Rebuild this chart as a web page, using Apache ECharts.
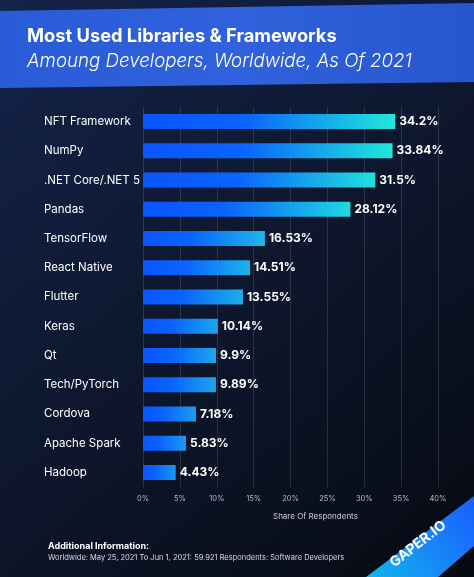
<!DOCTYPE html>
<html>
<head>
<meta charset="utf-8">
<script src="https://cdn.jsdelivr.net/npm/echarts@6/dist/echarts.min.js"></script>
<style>
  html, body { margin: 0; padding: 0; background: #0b1222; }
  #chart { width: 474px; height: 577px; }
</style>
</head>
<body>
<div id="chart"></div>
<script>
// chart data
var libraries = ['NFT Framework', 'NumPy', '.NET Core/.NET 5', 'Pandas', 'TensorFlow', 'React Native',
    'Flutter', 'Keras', 'Qt', 'Tech/PyTorch', 'Cordova', 'Apache Spark', 'Hadoop'];
var shares = [34.2, 33.84, 31.5, 28.12, 16.53, 14.51, 13.55, 10.14, 9.9, 9.89, 7.18, 5.83, 4.43];
var shareLabels = ['34.2%', '33.84%', '31.5%', '28.12%', '16.53%', '14.51%', '13.55%', '10.14%', '9.9%', '9.89%', '7.18%', '5.83%', '4.43%'];
var tickValues = [0, 5, 10, 15, 20, 25, 30, 35, 40];

var font = 'Inter, "Noto Sans", sans-serif';

// end colour of each bar goes from light blue (short) to cyan (long)
function mix(a, b, t) {
    var r = Math.round(a[0] + (b[0] - a[0]) * t);
    var g = Math.round(a[1] + (b[1] - a[1]) * t);
    var bl = Math.round(a[2] + (b[2] - a[2]) * t);
    return 'rgb(' + r + ',' + g + ',' + bl + ')';
}
var maxShare = Math.max.apply(null, shares);

var barData = shares.map(function (v, i) {
    var t = v / maxShare;
    return {
        value: v,
        label: { formatter: shareLabels[i] },
        itemStyle: {
            color: new echarts.graphic.LinearGradient(0, 0, 1, 0, [
                { offset: 0, color: '#0a55ff' },
                { offset: 0.4, color: '#0a64ff' },
                { offset: 1, color: mix([26, 140, 242], [32, 232, 218], t) }
            ])
        }
    };
});

var myChart = echarts.init(document.getElementById('chart'), null, { renderer: 'canvas' });

var option = {
    backgroundColor: new echarts.graphic.LinearGradient(0, 0, 1, 1, [
        { offset: 0, color: '#14234a' },
        { offset: 0.45, color: '#0e1830' },
        { offset: 1, color: '#070a12' }
    ]),
    graphic: [
        /* title banner */
        {
            type: 'polygon',
            z: 0,
            shape: { points: [[0, 11], [474, 3], [474, 82], [0, 88]] },
            style: {
                fill: new echarts.graphic.LinearGradient(0, 0, 1, 0, [
                    { offset: 0, color: '#2a5bd8' },
                    { offset: 0.5, color: '#2f62dc' },
                    { offset: 1, color: '#2756cf' }
                ])
            }
        },
        {
            type: 'text', left: 27, top: 28,
            style: { text: 'Most Used Libraries & Frameworks', fill: '#ffffff', font: 'bold 18.3px ' + font }
        },
        {
            type: 'text', left: 27, top: 52,
            style: { text: 'Amoung Developers, Worldwide, As Of 2021', fill: '#ffffff', font: 'italic 300 18.7px ' + font }
        },
        /* axis title */
        {
            type: 'text', left: 273, top: 513,
            style: { text: 'Share Of Respondents', fill: '#c8ccd6', font: '8px ' + font }
        },
        /* footnote */
        {
            type: 'text', left: 48, top: 542,
            style: { text: 'Additional Information:', fill: '#ffffff', font: 'bold 9px ' + font }
        },
        {
            type: 'text', left: 48, top: 554,
            style: { text: 'Worldwide: May 25, 2021 To Jun 1, 2021: 59.921 Respondents: Software Developers', fill: '#d8dbe2', font: '7.5px ' + font }
        },
        /* logo band */
        {
            type: 'polygon',
            shape: { points: [[366, 577], [474, 496], [474, 546], [438, 577]] },
            style: {
                fill: new echarts.graphic.LinearGradient(0, 1, 1, 0, [
                    { offset: 0, color: '#13b4ee' },
                    { offset: 1, color: '#1a5cff' }
                ])
            }
        },
        {
            type: 'text', x: 418, y: 544, rotation: 0.66,
            style: { text: 'GAPER.IO', fill: '#ffffff', font: 'bold 14px ' + font, align: 'center', verticalAlign: 'middle' }
        }
    ],
    grid: {
        left: 143,
        right: 36,
        top: 107,
        bottom: 90,
        containLabel: false
    },
    xAxis: {
        type: 'value',
        min: 0,
        max: 40,
        interval: 5,
        axisLine: { show: false },
        axisTick: { show: false },
        splitLine: { lineStyle: { color: 'rgba(255,255,255,0.13)', width: 1 } },
        axisLabel: {
            color: '#b4b9c6',
            fontSize: 7.5,
            fontFamily: font,
            margin: 8,
            formatter: function (v) { return tickValues.indexOf(v) > -1 ? v + '%' : ''; }
        }
    },
    yAxis: {
        type: 'category',
        data: libraries,
        inverse: true,
        axisLine: { show: false },
        axisTick: { show: false },
        axisLabel: {
            color: '#ffffff',
            fontSize: 11.5,
            fontFamily: font,
            align: 'left',
            margin: 99
        }
    },
    series: [{
        type: 'bar',
        data: barData,
        barWidth: 15,
        label: {
            show: true,
            position: 'right',
            distance: 4,
            color: '#ffffff',
            fontWeight: 'bold',
            fontSize: 12,
            fontFamily: font
        }
    }]
};
myChart.setOption(option);
</script>
</body>
</html>
